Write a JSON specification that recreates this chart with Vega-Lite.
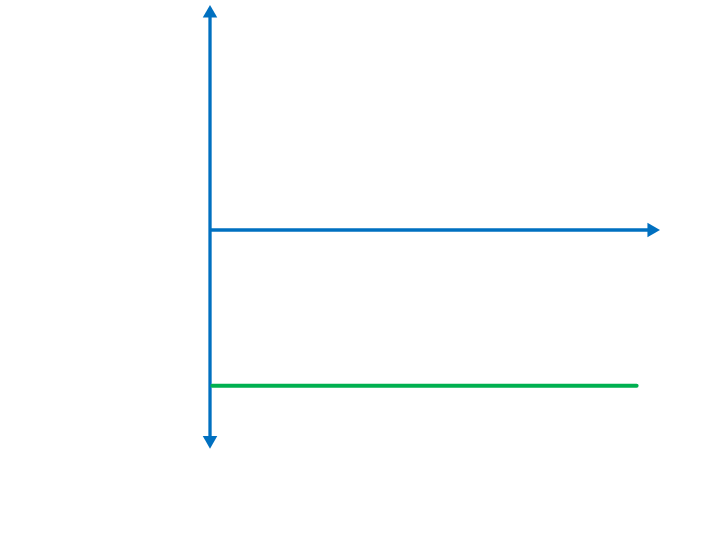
{
  "$schema": "https://vega.github.io/schema/vega-lite/v6.json",
  "description": "Axes diagram with a constant green line below the horizontal axis",
  "width": 720,
  "height": 540,
  "padding": 0,
  "autosize": {"type": "fit", "contains": "padding"},
  "config": {"view": {"stroke": null}},
  "datasets": {
    "segments": [
      {"name": "y-axis", "x": 0, "y": 4.86, "x2": 0, "y2": -4.72},
      {"name": "x-axis", "x": 0, "y": 0, "x2": 9.86, "y2": 0},
      {"name": "level", "x": 0.05, "y": -3.46, "x2": 9.48, "y2": -3.46}
    ],
    "heads": [
      {"name": "up", "x": 0, "y": 4.86},
      {"name": "down", "x": 0, "y": -4.72},
      {"name": "right", "x": 9.86, "y": 0}
    ]
  },
  "encoding": {
    "x": {"field": "x", "type": "quantitative", "axis": null,
          "scale": {"domain": [-4.667, 11.333], "nice": false, "zero": false}},
    "y": {"field": "y", "type": "quantitative", "axis": null,
          "scale": {"domain": [-6.889, 5.111], "nice": false, "zero": false}}
  },
  "layer": [
    {
      "data": {"name": "segments"},
      "transform": [{"filter": "datum.name !== 'level'"}],
      "mark": {"type": "rule", "color": "#0070C0", "strokeWidth": 3.3},
      "encoding": {"x2": {"field": "x2"}, "y2": {"field": "y2"}}
    },
    {
      "data": {"name": "segments"},
      "transform": [{"filter": "datum.name === 'level'"}],
      "mark": {"type": "rule", "color": "#00B050", "strokeWidth": 4, "strokeCap": "round"},
      "encoding": {"x2": {"field": "x2"}, "y2": {"field": "y2"}}
    },
    {
      "data": {"name": "heads"},
      "mark": {"type": "point", "filled": true, "color": "#0070C0", "size": 210, "opacity": 1},
      "encoding": {
        "shape": {"field": "name", "type": "nominal", "legend": null,
                  "scale": {"domain": ["up", "down", "right"],
                            "range": ["triangle-up", "triangle-down", "triangle-right"]}}
      }
    }
  ]
}
